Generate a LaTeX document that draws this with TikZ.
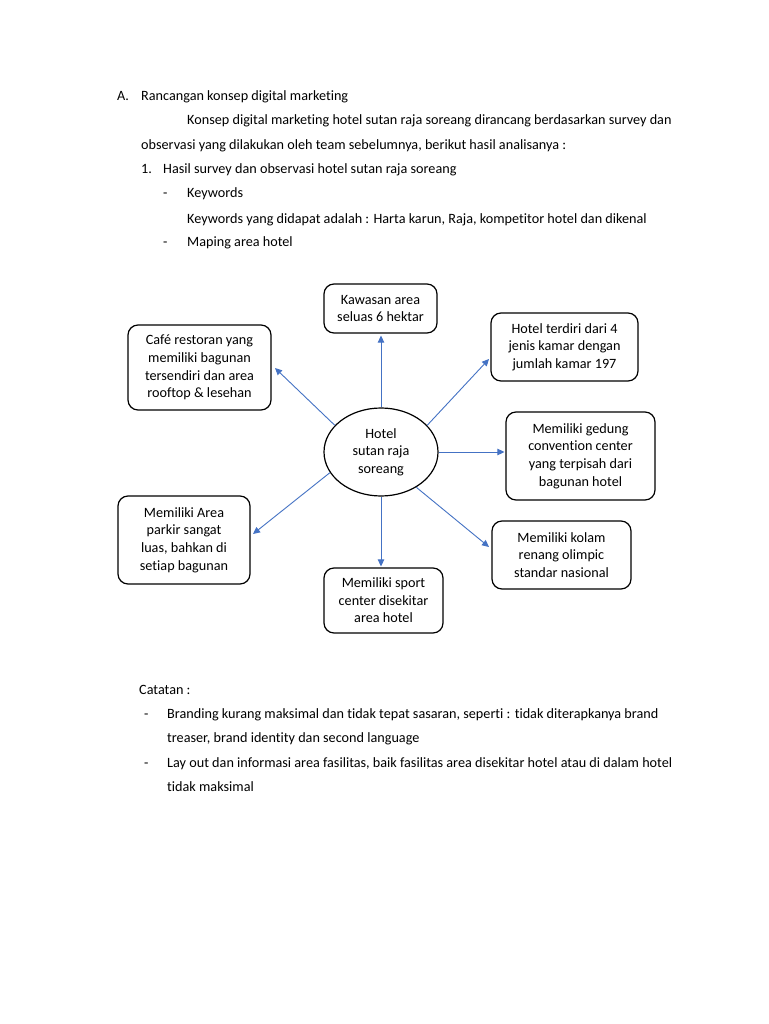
\documentclass[tikz,border=0pt]{standalone}
\usepackage{fontspec}
\setmainfont{Carlito}[RawFeature=-liga]
\usetikzlibrary{arrows.meta,shapes.geometric,calc}
\definecolor{arrowblue}{HTML}{4472C4}
\begin{document}
\begin{tikzpicture}[x=1pt,y=-1pt,
  txt/.style={anchor=base west,inner sep=0pt,font=\fontsize{14.2}{16}\selectfont},
  box/.style={draw=black,line width=1.2pt,rounded corners=10pt,align=center,inner sep=0pt,
    font=\fontsize{14.2}{17.6}\selectfont},
  hub/.style={draw=black,line width=1.2pt,ellipse,align=center,inner sep=0pt,
    minimum width=114pt,minimum height=88pt,font=\fontsize{14.2}{17.6}\selectfont},
  conn/.style={draw=arrowblue,line width=0.9pt,-{Triangle[length=7pt,width=6.5pt]}}
]
\useasboundingbox (0,0) rectangle (768,1024);
\fill[white] (0,0) rectangle (768,1024);

% body text
\node[txt] (a1) at (117,101) {A.};
\node[txt] (a2) at (141,101) {Rancangan konsep digital marketing};
\node[txt] (p1) at (187,125) {Konsep digital marketing hotel sutan raja soreang dirancang berdasarkan survey dan};
\node[txt] (p2) at (141,150) {observasi yang dilakukan oleh team sebelumnya, berikut hasil analisanya :};
\node[txt] (n1) at (141,174) {1.};
\node[txt] (n2) at (163,174) {Hasil survey dan observasi hotel sutan raja soreang};
\node[txt] (d1) at (163,198) {-};
\node[txt] (k1) at (187,198) {Keywords};
\node[txt] (k2) at (187,223) {Keywords yang didapat adalah : Harta karun, Raja, kompetitor hotel dan dikenal};
\node[txt] (d2) at (163,247) {-};
\node[txt] (m1) at (187,247) {Maping area hotel};

% diagram
\node[hub] (hotel) at (381,452) {Hotel\\sutan raja\\soreang};
\node[box,minimum width=113pt,minimum height=49pt] (kaw) at (380.5,308.5) {Kawasan area\\seluas 6 hektar};
\node[box,minimum width=143pt,minimum height=85pt] (cafe) at (199.5,367.5) {Café restoran yang\\memiliki bagunan\\tersendiri dan area\\rooftop \& lesehan};
\node[box,minimum width=147pt,minimum height=68pt] (kamar) at (564.5,347) {Hotel terdiri dari 4\\jenis kamar dengan\\jumlah kamar 197};
\node[box,minimum width=149pt,minimum height=88pt] (conv) at (580.5,456) {Memiliki gedung\\convention center\\yang terpisah dari\\bagunan hotel};
\node[box,minimum width=132pt,minimum height=88pt] (parkir) at (184,540) {Memiliki Area\\parkir sangat\\luas, bahkan di\\setiap bagunan};
\node[box,minimum width=119pt,minimum height=65pt] (sport) at (383.5,600.5) {Memiliki sport\\center disekitar\\area hotel};
\node[box,minimum width=139pt,minimum height=68pt] (kolam) at (561.5,555) {Memiliki kolam\\renang olimpic\\standar nasional};

\coordinate (tNW) at (275,368);
\coordinate (tNE) at (489,359);
\coordinate (tSW) at (253,534);
\coordinate (tSE) at (489,547);

\draw[conn] (hotel.north) -- ($(hotel.north |- kaw.south)+(0,2)$);
\draw[conn] (hotel.150) -- (tNW);
\draw[conn] (hotel.30) -- (tNE);
\draw[conn] (hotel.east) -- ($(hotel.east -| conv.west)+(-1,0)$);
\draw[conn] (hotel.202) -- (tSW);
\draw[conn] (hotel.south) -- ($(hotel.south |- sport.north)+(0,-1)$);
\draw[conn] (hotel.315) -- (tSE);

% notes
\node[txt] (c0) at (139,694) {Catatan :};
\node[txt] (cd1) at (144,718.4) {-};
\node[txt] (c1) at (167,718.4) {Branding kurang maksimal dan tidak tepat sasaran, seperti : tidak diterapkanya brand};
\node[txt] (c2) at (167,742.8) {treaser, brand identity dan second language};
\node[txt] (cd2) at (144,767.2) {-};
\node[txt] (c3) at (167,767.2) {Lay out dan informasi area fasilitas, baik fasilitas area disekitar hotel atau di dalam hotel};
\node[txt] (c4) at (167,791.6) {tidak maksimal};
\end{tikzpicture}
\end{document}
